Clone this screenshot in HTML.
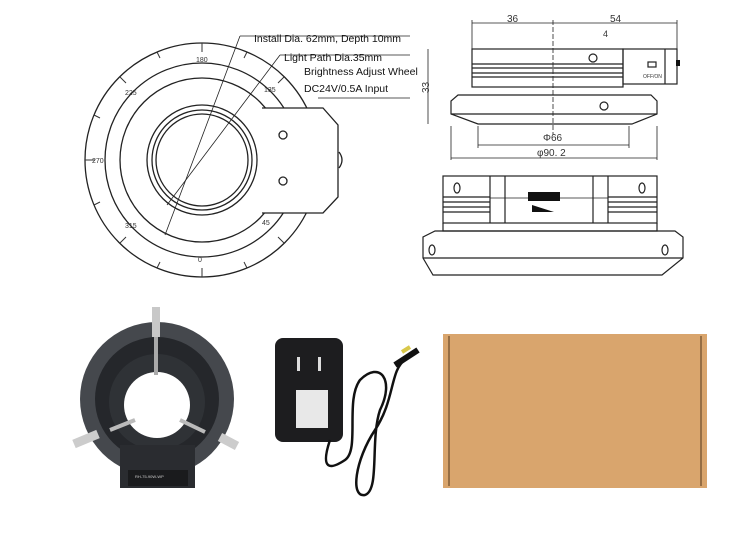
<!DOCTYPE html>
<html><head><style>
html,body{margin:0;padding:0;background:#fff;}
svg{display:block;}
text{font-family:"Liberation Sans",sans-serif;}
</style></head><body>
<svg width="750" height="536" viewBox="0 0 750 536" xmlns="http://www.w3.org/2000/svg">
<rect width="750" height="536" fill="#fff"/>
<!-- Left top drawing -->
<g fill="none" stroke="#222" stroke-width="1.3">
<circle cx="202" cy="160" r="117"/>
<circle cx="202" cy="160" r="97"/>
<circle cx="202" cy="160" r="82"/>
<circle cx="202" cy="160" r="55"/>
<circle cx="202" cy="160" r="50"/>
<circle cx="202" cy="160" r="46"/>
<path d="M262 108 L323 108 L338 125 L338 197 L323 213 L262 213" fill="#fff"/>
<circle cx="283" cy="135" r="4"/><circle cx="283" cy="181" r="4"/>
<path d="M339 152 q6 8 0 16" />
<line x1="240" y1="36" x2="165" y2="235" stroke-width="0.8"/>
<line x1="280" y1="55" x2="167" y2="205" stroke-width="0.8"/>
<line x1="240" y1="36" x2="410" y2="36" stroke-width="0.8"/>
<line x1="280" y1="55" x2="410" y2="55" stroke-width="0.8"/>
<line x1="318" y1="98" x2="410" y2="98" stroke-width="0.8"/>
</g>
<g stroke="#333" stroke-width="1">
<line x1="202" y1="43" x2="202" y2="52"/><line x1="202" y1="268" x2="202" y2="277"/>
<line x1="85" y1="160" x2="95" y2="160"/>
<line x1="120" y1="77" x2="126" y2="83"/><line x1="120" y1="243" x2="126" y2="237"/>
<line x1="284" y1="77" x2="278" y2="83"/><line x1="284" y1="243" x2="278" y2="237"/>
<line x1="157" y1="52" x2="160" y2="58"/><line x1="247" y1="52" x2="244" y2="58"/>
<line x1="157" y1="268" x2="160" y2="262"/><line x1="247" y1="268" x2="244" y2="262"/>
<line x1="94" y1="115" x2="100" y2="118"/><line x1="94" y1="205" x2="100" y2="202"/>
</g>
<g font-size="7" fill="#333">
<text x="196" y="62">180</text><text x="198" y="262">0</text><text x="92" y="163">270</text>
<text x="125" y="95">225</text><text x="125" y="228">315</text><text x="262" y="225">45</text><text x="264" y="92">135</text>
</g>
<g font-size="10.5" fill="#111">
<text x="254" y="42">Install Dia. 62mm, Depth 10mm</text>
<text x="284" y="61">Light Path Dia.35mm</text>
<text x="304" y="75">Brightness Adjust Wheel</text>
<text x="304" y="92">DC24V/0.5A Input</text>
</g>
<!-- Right top drawing -->
<g fill="none" stroke="#222" stroke-width="1.2">
<rect x="472" y="49" width="151" height="38"/>
<line x1="472" y1="64" x2="623" y2="64"/><line x1="472" y1="68" x2="623" y2="68"/>
<line x1="472" y1="73" x2="623" y2="73"/><line x1="472" y1="77" x2="623" y2="77"/>
<rect x="623" y="49" width="54" height="35"/>
<line x1="665" y1="49" x2="665" y2="84"/>
<rect x="648" y="62" width="8" height="5"/>
<ellipse cx="593" cy="58" rx="4" ry="4"/>
<path d="M458 95 L651 95 L657 101 L657 114 L632 124 L478 124 L451 114 L451 101 Z"/>
<line x1="451" y1="114" x2="657" y2="114"/>
<circle cx="604" cy="106" r="4"/>
<line x1="472" y1="23" x2="677" y2="23" stroke-width="0.8"/>
<line x1="472" y1="20" x2="472" y2="49" stroke-width="0.8"/><line x1="677" y1="20" x2="677" y2="49" stroke-width="0.8"/>
<line x1="553" y1="20" x2="553" y2="135" stroke-width="0.8" stroke-dasharray="5,2"/>
<line x1="428" y1="49" x2="428" y2="124" stroke-width="0.8"/>
<line x1="478" y1="126" x2="478" y2="148" stroke-width="0.8"/><line x1="629" y1="126" x2="629" y2="148" stroke-width="0.8"/>
<line x1="478" y1="145" x2="629" y2="145" stroke-width="0.8"/>
<line x1="451" y1="126" x2="451" y2="160" stroke-width="0.8"/><line x1="657" y1="126" x2="657" y2="160" stroke-width="0.8"/>
<line x1="451" y1="158" x2="657" y2="158" stroke-width="0.8"/>
</g>
<rect x="676" y="60" width="4" height="6" fill="#111"/>
<g font-family="Liberation Serif,serif" font-size="10" fill="#333">
<text x="507" y="22">36</text><text x="610" y="22">54</text><text x="603" y="37" font-size="9">4</text>
<text x="420" y="92" transform="rotate(-90 425 88)">33</text>
<text x="543" y="141" font-family="Liberation Sans,sans-serif">Φ66</text>
<text x="537" y="156">φ90. 2</text>
<text x="643" y="78" font-size="5">OFF/ON</text>
</g>
<!-- Right bottom drawing -->
<g fill="none" stroke="#222" stroke-width="1.2">
<rect x="443" y="176" width="214" height="47"/>
<line x1="490" y1="176" x2="490" y2="223"/><line x1="505" y1="176" x2="505" y2="223"/>
<line x1="593" y1="176" x2="593" y2="223"/><line x1="608" y1="176" x2="608" y2="223"/>
<line x1="443" y1="197" x2="490" y2="197"/><line x1="443" y1="202" x2="490" y2="202"/><line x1="443" y1="207" x2="490" y2="207"/><line x1="443" y1="212" x2="490" y2="212"/>
<line x1="608" y1="197" x2="657" y2="197"/><line x1="608" y1="202" x2="657" y2="202"/><line x1="608" y1="207" x2="657" y2="207"/><line x1="608" y1="212" x2="657" y2="212"/>
<line x1="490" y1="198" x2="608" y2="198" stroke-width="0.7"/>
<ellipse cx="457" cy="188" rx="3" ry="5"/><ellipse cx="642" cy="188" rx="3" ry="5"/>
<path d="M443 223 L443 231 L657 231 L657 223"/>
<path d="M435 231 L675 231 L683 237 L683 258 L662 275 L433 275 L423 258 L423 237 Z"/>
<line x1="423" y1="258" x2="683" y2="258"/>
<ellipse cx="432" cy="250" rx="3" ry="5"/><ellipse cx="665" cy="250" rx="3" ry="5"/>
</g>
<rect x="528" y="192" width="32" height="9" fill="#111"/>
<path d="M532 205 L554 212 L532 212 Z" fill="#111"/>
<!-- Ring light photo -->
<g>
<circle cx="157" cy="399" r="77" fill="#45484d"/>
<circle cx="157" cy="399" r="62" fill="#25272b"/>
<circle cx="157" cy="402" r="48" fill="#2f3236"/>
<circle cx="157" cy="405" r="33" fill="#fff"/>
<rect x="120" y="445" width="75" height="43" fill="#2a2c30"/>
<rect x="128" y="470" width="60" height="16" fill="#1a1b1d"/>
<text x="135" y="478" font-size="4" fill="#ccc">RH-75-90W-WP</text>
<rect x="152" y="307" width="8" height="30" fill="#c8c8c8"/>
<rect x="154" y="337" width="4" height="38" fill="#aaa"/>
<line x1="110" y1="430" x2="135" y2="420" stroke="#bbb" stroke-width="4"/>
<line x1="180" y1="420" x2="205" y2="432" stroke="#bbb" stroke-width="4"/>
<line x1="74" y1="444" x2="98" y2="434" stroke="#ccc" stroke-width="9"/>
<line x1="220" y1="437" x2="237" y2="446" stroke="#ccc" stroke-width="9"/>
</g>
<!-- Adapter -->
<g>
<rect x="275" y="338" width="68" height="104" rx="8" fill="#1d1d1f"/>
<rect x="297" y="357" width="3" height="14" fill="#ddd"/><rect x="318" y="357" width="3" height="14" fill="#ddd"/>
<rect x="296" y="390" width="32" height="38" fill="#e8e8e8"/>
<path d="M330 440 C320 470 330 470 345 460 C360 450 345 400 360 380 C380 360 395 380 380 410 C370 440 380 490 365 495 C350 498 355 460 375 430 C395 400 390 370 405 360" fill="none" stroke="#111" stroke-width="2.5"/>
<path d="M395 365 L418 350" stroke="#111" stroke-width="6"/>
<path d="M402 352 L410 347" stroke="#d9c84a" stroke-width="4"/>
</g>
<!-- Box -->
<rect x="443" y="334" width="264" height="154" fill="#d9a56d"/>
<line x1="449" y1="336" x2="449" y2="486" stroke="#6b4a2a" stroke-width="1.2"/>
<line x1="701" y1="336" x2="701" y2="486" stroke="#6b4a2a" stroke-width="1.2"/>
</svg>
</body></html>
